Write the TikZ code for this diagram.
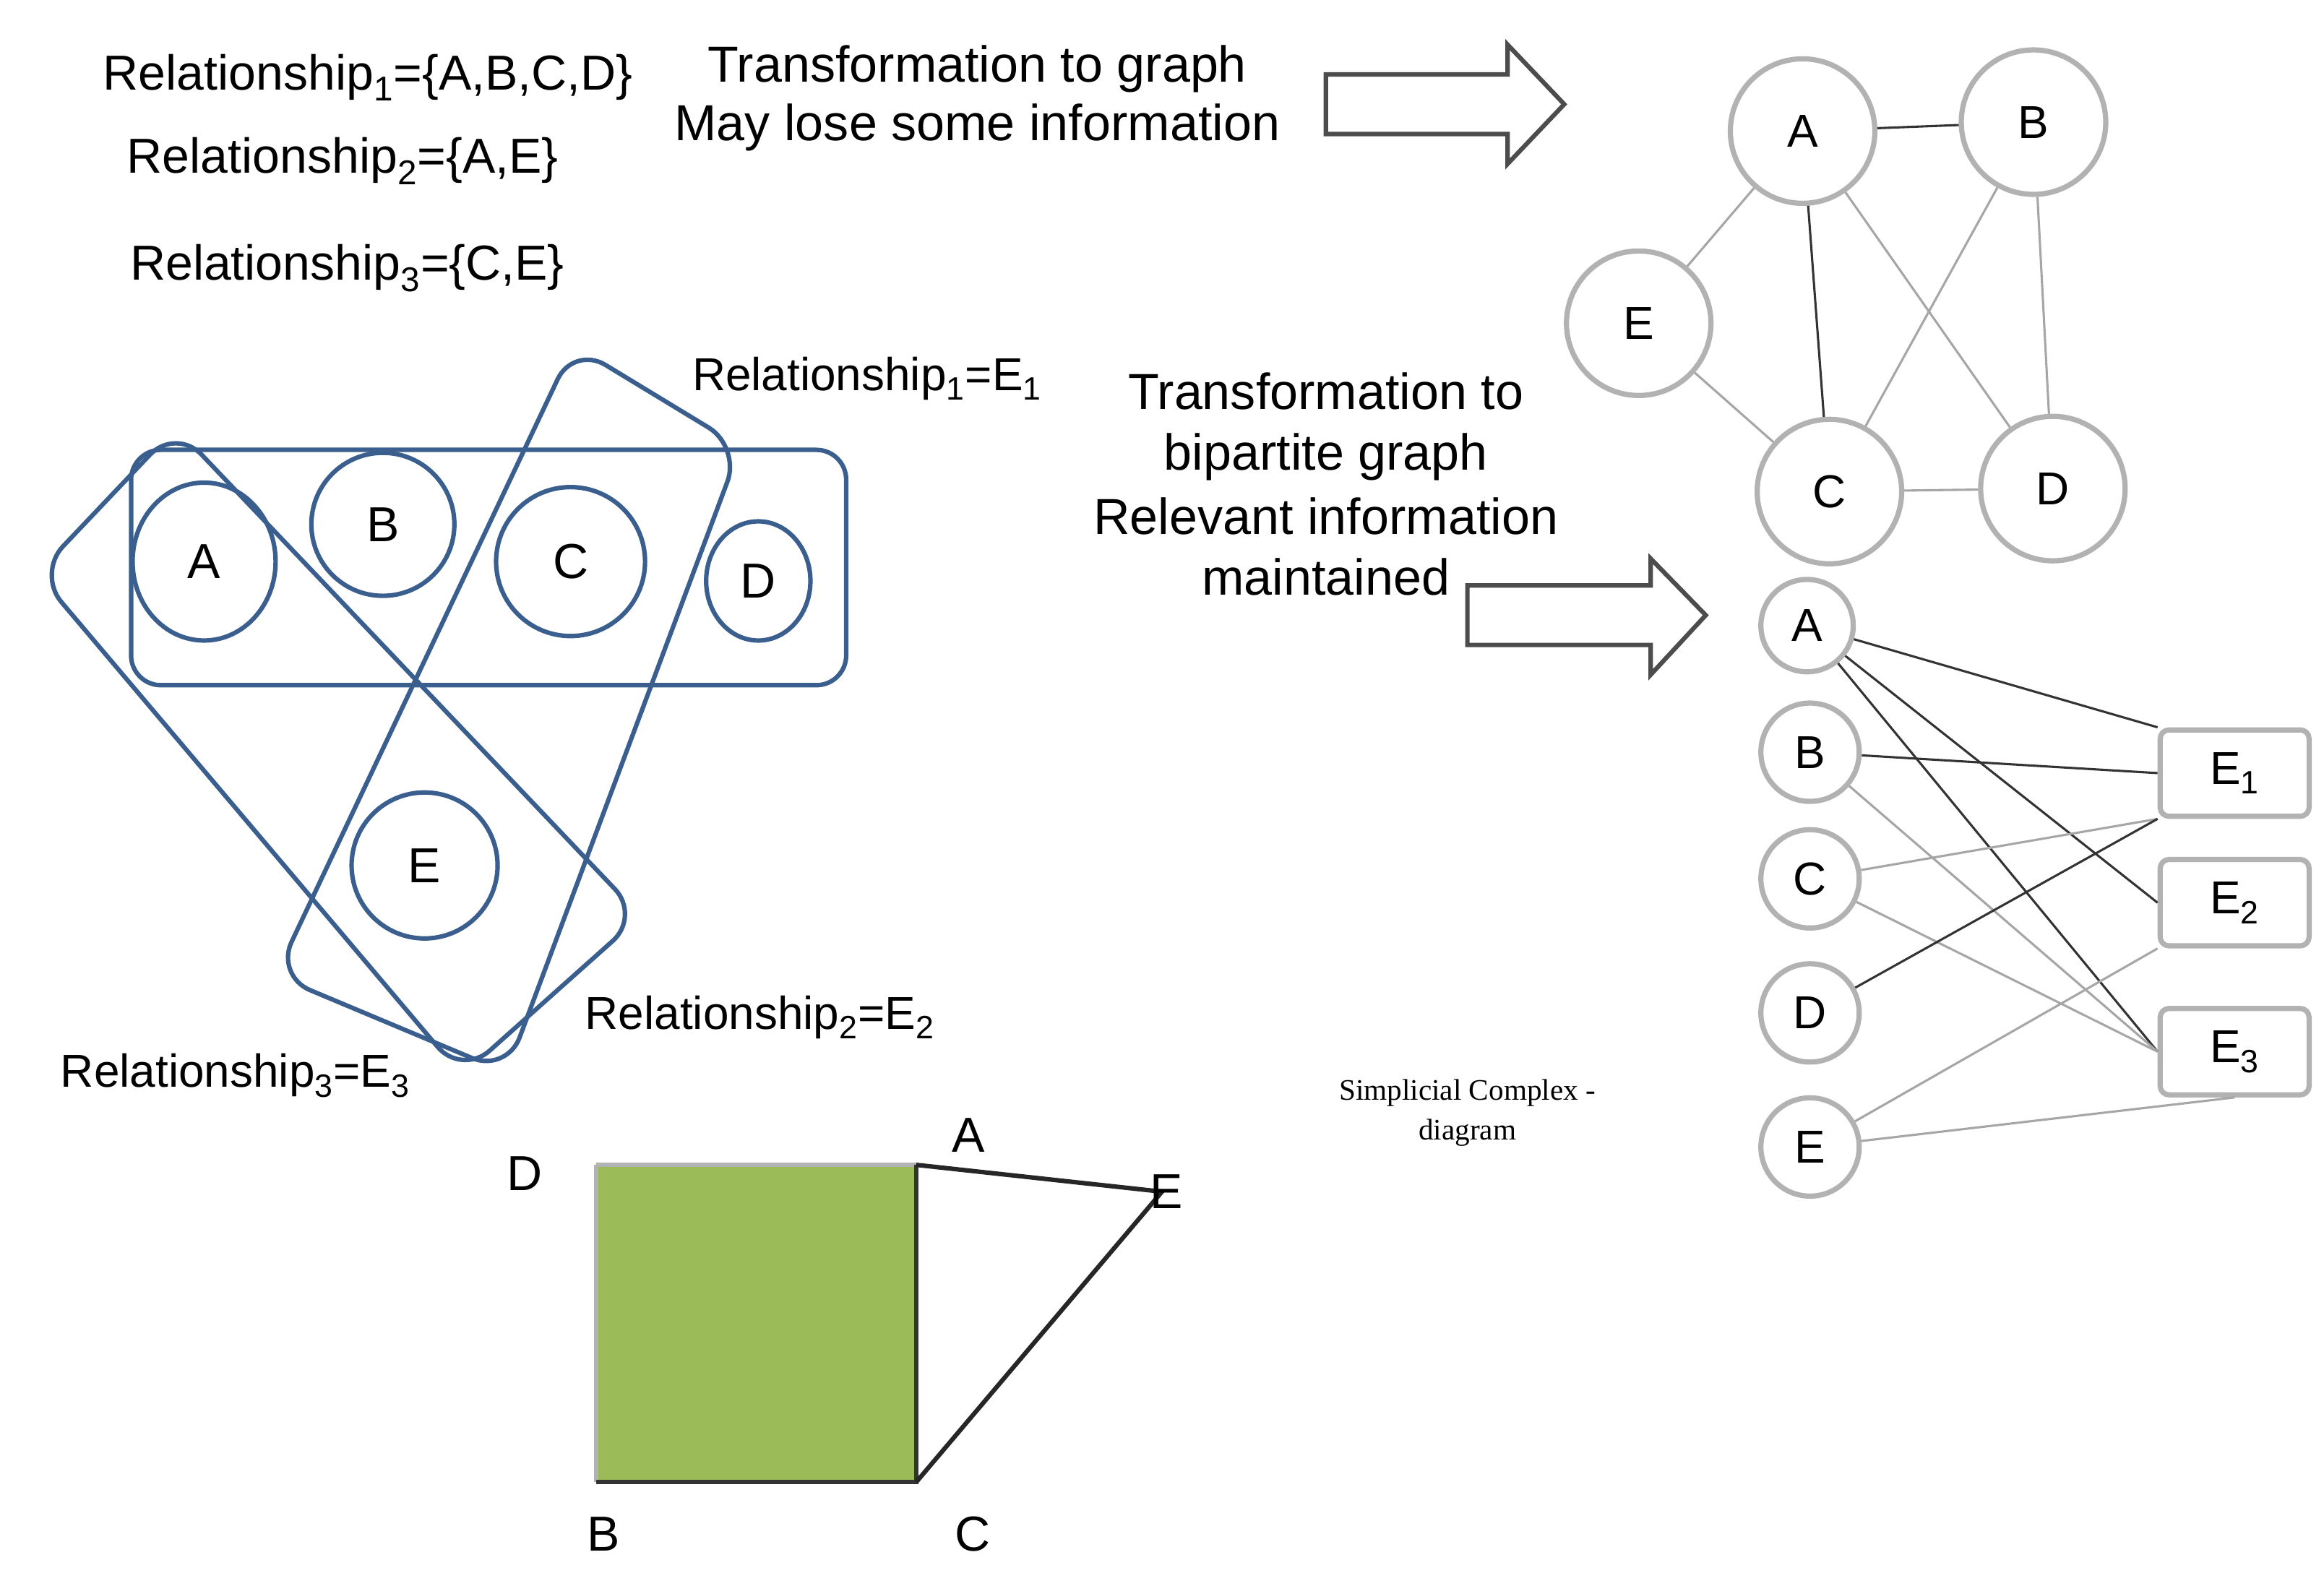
\documentclass[tikz,border=0pt]{standalone}
\usepackage{fontspec}
\setmainfont{Liberation Sans}
\newfontfamily\serifsc{Liberation Serif}
\newcommand{\sbs}[1]{\textsubscript{#1}}
\begin{document}
\begin{tikzpicture}[x=1pt,y=-1pt,
  txt/.style={font=\fontsize{33}{40}\selectfont,inner sep=0pt},
  txt2/.style={font=\fontsize{34}{41}\selectfont,inner sep=0pt},
  lbl/.style={font=\fontsize{31}{37}\selectfont,inner sep=0pt},
  gn/.style={circle,draw=gray!60,line width=3.5pt,minimum size=97pt,font=\fontsize{31}{36}\selectfont,inner sep=0pt},
  bn/.style={circle,draw=gray!60,line width=3.5pt,minimum size=66pt,font=\fontsize{31}{36}\selectfont,inner sep=0pt},
  en/.style={rectangle,rounded corners=6pt,draw=gray!60,line width=3.5pt,minimum width=100pt,minimum height=58pt,font=\fontsize{31}{36}\selectfont,inner sep=0pt},
  bl/.style={line width=3pt},
  ge/.style={draw=gray!70,line width=1.5pt},
  ge2/.style={draw=gray!40!black,line width=1.5pt},
  harrow/.style={draw=gray!60!black,line width=3pt,fill=white}]
\useasboundingbox (0,0) rectangle (1560,1056);
\definecolor{hb}{HTML}{3A5F8F}
\definecolor{sg}{HTML}{9BBB59}
% top-left texts
\node[txt] (r1) at (247,52) {Relationship\sbs{1}=\{A,B,C,D\}};
\node[txt] (r2) at (230,108) {Relationship\sbs{2}=\{A,E\}};
\node[txt] (r3) at (233,180) {Relationship\sbs{3}=\{C,E\}};
\node[txt2,align=center] (t1) at (656,66) {Transformation to graph\\[-2pt]May lose some information};
% arrow 1
\draw[harrow] (890,50)--(1012,50)--(1012,30)--(1050,70)--(1012,110)--(1012,90)--(890,90)--cycle;
% graph
\node[gn] (A) at (1210,88) {A};
\node[gn] (B) at (1365,82) {B};
\node[gn] (E) at (1100,217) {E};
\node[gn] (C) at (1228,330) {C};
\node[gn] (D) at (1378,328) {D};
\draw[ge2] (A)--(B);
\draw[ge] (A)--(E);
\draw[ge2] (A)--(C);
\draw[ge] (A)--(D);
\draw[ge] (B)--(C);
\draw[ge] (B)--(D);
\draw[ge] (E)--(C);
\draw[ge] (C)--(D);
% middle text
\node[txt2,align=center] (t2) at (890,325) {Transformation to\\[0pt]bipartite graph\\[2pt]Relevant information\\[0pt]maintained};
\draw[harrow] (985,393)--(1108,393)--(1108,375)--(1145,413)--(1108,453)--(1108,433)--(985,433)--cycle;
% bipartite
\node[bn,minimum size=62pt] (bA) at (1213,420) {A};
\node[bn] (bB) at (1215,505) {B};
\node[bn] (bC) at (1215,590) {C};
\node[bn] (bD) at (1215,680) {D};
\node[bn] (bE) at (1215,770) {E};
\node[en] (E1) at (1500,519) {E\sbs{1}};
\node[en] (E2) at (1500,606) {E\sbs{2}};
\node[en] (E3) at (1500,706) {E\sbs{3}};
\draw[ge2] (bA)--(E1.north west);
\draw[ge2] (bA)--(E2.west);
\draw[ge2] (bA)--(E3.west);
\draw[ge2] (bB)--(E1.west);
\draw[ge] (bB)--(E3.west);
\draw[ge] (bC)--(E1.south west);
\draw[ge] (bC)--(E3.west);
\draw[ge2] (bD)--(E1.south west);
\draw[ge] (bE)--(E2.south west);
\draw[ge] (bE)--(E3.south);
% hypergraph
\draw[bl,draw=hb,rounded corners=20pt] (88,302) rectangle (568,460);
\draw[bl,draw=hb,rounded corners=25pt] (118,287)--(430,615)--(310,722)--(25,385)--cycle;
\draw[bl,draw=hb,rounded corners=25pt] (385,232)--(497,300)--(340,720)--(185,655)--cycle;
\draw[bl,draw=hb] (137,377) ellipse (48 and 53);
\draw[bl,draw=hb] (257,352) circle (48);
\draw[bl,draw=hb] (383,377) circle (50);
\draw[bl,draw=hb] (509,390) ellipse (35 and 40);
\draw[bl,draw=hb] (285,581) circle (49);
\node[txt] (hA) at (137,377) {A};
\node[txt] (hB) at (257,352) {B};
\node[txt] (hC) at (383,377) {C};
\node[txt] (hD) at (509,390) {D};
\node[txt] (hE) at (285,581) {E};
\node[lbl] (l1) at (582,254) {Relationship\sbs{1}=E\sbs{1}};
\node[lbl] (l2) at (510,683) {Relationship\sbs{2}=E\sbs{2}};
\node[lbl] (l3) at (158,722) {Relationship\sbs{3}=E\sbs{3}};
% simplicial complex
\coordinate (sD) at (400,782);
\coordinate (sA) at (615,782);
\coordinate (sC) at (615,995);
\coordinate (sB) at (400,995);
\coordinate (sE) at (780,800);
\fill[sg] (sD) rectangle (sC);
\draw[gray!60,line width=3pt] (sD)--(sA) (sD)--(sB);
\draw[gray!40!black,line width=3pt] (sA)--(sC)--(sB);
\draw[gray!30!black,line width=3pt] (sA)--(sE)--(sC);
\node[txt] (nD) at (352,788) {D};
\node[txt] (nA) at (650,762) {A};
\node[txt] (nE) at (783,800) {E};
\node[txt] (nB) at (405,1030) {B};
\node[txt] (nC) at (653,1030) {C};
\node[font=\serifsc\fontsize{20}{27}\selectfont,align=center,inner sep=0pt] (sc) at (985,747) {Simplicial Complex -\\diagram};
\end{tikzpicture}
\end{document}
